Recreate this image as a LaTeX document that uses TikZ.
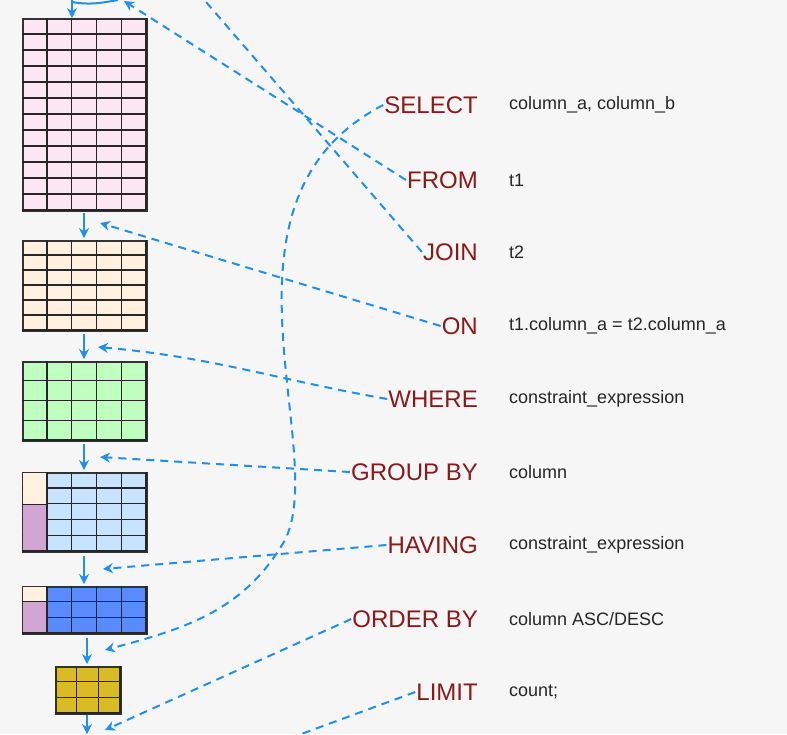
\documentclass[tikz,border=0pt]{standalone}
\usepackage{fontspec}
\setmainfont{Liberation Sans}
\usetikzlibrary{arrows.meta,positioning,calc}
\definecolor{kwred}{rgb}{0.55,0.10,0.10}
\definecolor{flowblue}{rgb}{0.13,0.56,0.93}
\definecolor{bggray}{rgb}{0.965,0.965,0.965}
\tikzset{
  kw/.style={anchor=east,text=kwred,font=\fontsize{24}{27}\selectfont,inner sep=1pt},
  arg/.style={anchor=west,text=black!85,font=\fontsize{18}{21}\selectfont,inner sep=1pt},
  flow/.style={-{Stealth[length=10pt,width=10pt]},flowblue,line width=2pt},
  link/.style={flow,dash pattern=on 8pt off 6pt},
  cell/.style={black!85,line width=1.4pt}
}
% grid table: name, x1, y1, x2, y2, cols, rows, fill
\newcommand{\gridtab}[8]{
  \node[draw=black!80,line width=1.6pt,fill=#8,inner sep=0pt,anchor=north west,
        minimum width={(#4-#2)*1pt},minimum height={(#5-#3)*1pt}] (#1) at (#2,#3) {};
  \foreach \i in {1,...,#6}{\draw[cell] ($(#2,#3)!\i/#6!(#4,#3)$) -- ($(#2,#5)!\i/#6!(#4,#5)$);}
  \foreach \j in {1,...,#7}{\draw[cell] ($(#2,#3)!\j/#7!(#2,#5)$) -- ($(#4,#3)!\j/#7!(#4,#5)$);}
}
\begin{document}
\begin{tikzpicture}[x=1pt,y=-1pt]
  \fill[bggray] (0,0) rectangle (787,734);
  \useasboundingbox (0,0) rectangle (787,734);

  % the tables
  \fill[orange!12] (23,473) rectangle (46.8,504.6);
  \fill[violet!35] (23,504.6) rectangle (46.8,550);
  \fill[orange!12] (23,587) rectangle (46.8,601.7);
  \fill[violet!35] (23,601.7) rectangle (46.8,632);
  \gridtab{fromtab}{22}{18}{146}{210}{5}{12}{magenta!10}
  \gridtab{ontab}{22}{240}{146}{330}{5}{6}{orange!12}
  \gridtab{wheretab}{22}{361}{146}{440}{5}{4}{green!25}
  \gridtab{grouptab}{22}{472}{146}{551}{5}{5}{blue!50!cyan!22}
  \gridtab{havtab}{22}{586}{146}{633}{5}{3}{blue!70!cyan!65}
  \gridtab{limtab}{55}{666}{120}{713}{3}{3}{yellow!70!orange!85!black}
  \fill[orange!12] (23,473) rectangle (46.8,504.6);
  \fill[violet!35] (23,504.6) rectangle (46.8,550);
  \fill[orange!12] (23,587) rectangle (46.8,601.7);
  \fill[violet!35] (23,601.7) rectangle (46.8,632);
  \draw[cell] (46.8,472) -- (46.8,551) (22,504.6) -- (46.8,504.6);
  \draw[cell] (46.8,586) -- (46.8,633) (22,601.7) -- (46.8,601.7);

  % flow between tables
  \coordinate (top) at (72,0);
  \coordinate (bot) at (87,734);
  \draw[flow] (top) -- (fromtab.north -| top);
  \draw[flowblue,line width=2pt] (72,2) to[out=-10,in=190] (118,0);
  \draw[flow] (84,213) -- (84,238);
  \draw[flow] (84,334) -- (84,359);
  \draw[flow] (84,444) -- (84,470);
  \draw[flow] (84,556) -- (84,584);
  \draw[flow] (87,638) -- (87,664);
  \draw[flow] (limtab.south -| bot) -- (bot);

  % clauses
  \foreach \k/\a/\y [count=\n] in {SELECT/{column\_a, column\_b}/105, FROM/t1/180, JOIN/t2/252,
      ON/{t1.column\_a = t2.column\_a}/326, WHERE/constraint\_expression/399,
      GROUP BY/column/472, HAVING/constraint\_expression/545,
      ORDER BY/column ASC\slash DESC/619, LIMIT/count;/692}{
    \node[kw] (k\n) at (479,\y) {\k};
    \node[arg] (a\n) at (508,\y) {\a};
  }

  % where each clause acts
  \coordinate (c1) at (105,650);
  \coordinate (c2) at (124,1);
  \coordinate (c3) at (200,-5);
  \coordinate (c4) at (100,223);
  \coordinate (c5) at (98,347);
  \coordinate (c6) at (100,457);
  \coordinate (c7) at (103,569);
  \coordinate (c8) at (105,730);
  \coordinate (c9) at (285,740);
  \draw[link] (k1.west) .. controls (200,200) and (330,450) .. (285,540) to[out=240,in=15] (c1);
  \draw[link] (k2.west) -- (c2);
  \draw[link,-] (k3.west) -- (c3);
  \draw[link] (k4.west) -- (c4);
  \draw[link] (k5.west) to[out=170,in=-5] (c5);
  \draw[link] (k6.west) -- (c6);
  \draw[link] (k7.west) -- (c7);
  \draw[link] (k8.west) -- (c8);
  \draw[link,-] (k9.west) -- (c9);
\end{tikzpicture}
\end{document}
